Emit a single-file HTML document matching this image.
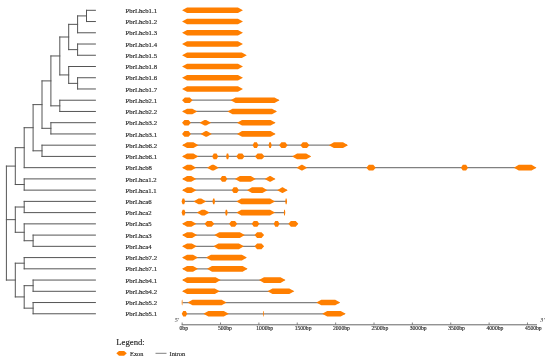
<!DOCTYPE html>
<html><head><meta charset="utf-8"><title>Gene structure</title>
<style>html,body{margin:0;padding:0;background:#fff}body{width:550px;height:361px;overflow:hidden}svg{display:block}</style></head>
<body>
<svg width="550" height="361" viewBox="0 0 550 361">
<rect width="550" height="361" fill="#fff"/>
<path d="M86.50,10.30H95.40M86.50,21.54H95.40M86.50,10.30V21.54M77.60,15.92H86.50M77.60,32.78H95.40M77.60,15.92V32.78M68.70,24.35H77.60M77.60,44.02H95.40M77.60,55.26H95.40M77.60,44.02V55.26M68.70,49.64H77.60M68.70,24.35V49.64M59.80,37.00H68.70M68.70,66.50H95.40M77.60,77.74H95.40M77.60,88.98H95.40M77.60,77.74V88.98M68.70,83.36H77.60M68.70,66.50V83.36M59.80,74.93H68.70M59.80,37.00V74.93M50.90,55.96H59.80M59.80,100.22H95.40M59.80,111.46H95.40M59.80,100.22V111.46M50.90,105.84H59.80M50.90,55.96V105.84M42.00,80.90H50.90M50.90,122.70H95.40M50.90,133.94H95.40M50.90,122.70V133.94M42.00,128.32H50.90M42.00,80.90V128.32M33.10,104.61H42.00M42.00,145.18H95.40M42.00,156.42H95.40M42.00,145.18V156.42M33.10,150.80H42.00M33.10,104.61V150.80M24.20,127.71H33.10M24.20,167.66H95.40M24.20,127.71V167.66M15.30,147.68H24.20M24.20,178.90H95.40M24.20,190.14H95.40M24.20,178.90V190.14M15.30,184.52H24.20M15.30,147.68V184.52M6.40,166.10H15.30M24.20,201.38H95.40M24.20,212.62H95.40M24.20,201.38V212.62M15.30,207.00H24.20M24.20,223.86H95.40M33.10,235.10H95.40M33.10,246.34H95.40M33.10,235.10V246.34M24.20,240.72H33.10M24.20,223.86V240.72M15.30,232.29H24.20M15.30,207.00V232.29M6.40,219.65H15.30M24.20,257.58H95.40M24.20,268.82H95.40M24.20,257.58V268.82M15.30,263.20H24.20M33.10,280.06H95.40M33.10,291.30H95.40M33.10,280.06V291.30M24.20,285.68H33.10M33.10,302.54H95.40M33.10,313.78H95.40M33.10,302.54V313.78M24.20,308.16H33.10M24.20,285.68V308.16M15.30,296.92H24.20M15.30,263.20V296.92M6.40,280.06H15.30M6.40,166.10V280.06" stroke="#555555" stroke-width="1" fill="none" stroke-linecap="square"/>
<g font-family="'Liberation Serif', 'Times New Roman', serif" font-size="6.7" fill="#2a2a2a" stroke="#2a2a2a" stroke-width="0.17">
<text x="125.6" y="12.90">PbrLhcb1.1</text>
<text x="125.6" y="24.14">PbrLhcb1.2</text>
<text x="125.6" y="35.38">PbrLhcb1.3</text>
<text x="125.6" y="46.62">PbrLhcb1.4</text>
<text x="125.6" y="57.86">PbrLhcb1.5</text>
<text x="125.6" y="69.10">PbrLhcb1.8</text>
<text x="125.6" y="80.34">PbrLhcb1.6</text>
<text x="125.6" y="91.58">PbrLhcb1.7</text>
<text x="125.6" y="102.82">PbrLhcb2.1</text>
<text x="125.6" y="114.06">PbrLhcb2.2</text>
<text x="125.6" y="125.30">PbrLhcb3.2</text>
<text x="125.6" y="136.54">PbrLhcb3.1</text>
<text x="125.6" y="147.78">PbrLhcb6.2</text>
<text x="125.6" y="159.02">PbrLhcb6.1</text>
<text x="125.6" y="170.26">PbrLhcb8</text>
<text x="125.6" y="181.50">PbrLhca1.2</text>
<text x="125.6" y="192.74">PbrLhca1.1</text>
<text x="125.6" y="203.98">PbrLhca6</text>
<text x="125.6" y="215.22">PbrLhca2</text>
<text x="125.6" y="226.46">PbrLhca5</text>
<text x="125.6" y="237.70">PbrLhca3</text>
<text x="125.6" y="248.94">PbrLhca4</text>
<text x="125.6" y="260.18">PbrLhcb7.2</text>
<text x="125.6" y="271.42">PbrLhcb7.1</text>
<text x="125.6" y="282.66">PbrLhcb4.1</text>
<text x="125.6" y="293.90">PbrLhcb4.2</text>
<text x="125.6" y="305.14">PbrLhcb5.2</text>
<text x="125.6" y="316.38">PbrLhcb5.1</text>
</g>
<path d="M183.05,100.22H278.50M183.05,111.46H276.00M183.05,122.70H274.60M183.05,133.94H274.60M183.05,145.18H347.00M183.05,156.42H310.20M183.05,167.66H535.50M183.05,178.90H274.50M183.05,190.14H286.70M182.55,201.38H286.10M182.55,212.62H284.30M183.05,223.86H297.30M183.05,235.10H263.10M183.05,246.34H263.10M183.05,257.58H245.90M183.05,268.82H246.60M183.05,280.06H284.50M183.05,291.30H293.30M182.65,302.54H339.20M182.75,313.78H344.70" stroke="#808080" stroke-width="1.2" fill="none"/>
<path d="M182.05,10.30 L187.05,7.48 L237.95,7.48 L242.95,10.30 L237.95,13.12 L187.05,13.12ZM182.05,21.54 L187.05,18.71 L237.95,18.71 L242.95,21.54 L237.95,24.36 L187.05,24.36ZM182.05,32.78 L187.05,29.96 L237.95,29.96 L242.95,32.78 L237.95,35.61 L187.05,35.61ZM182.05,44.02 L187.05,41.19 L237.95,41.19 L242.95,44.02 L237.95,46.84 L187.05,46.84ZM182.05,55.26 L187.05,52.44 L241.80,52.44 L246.80,55.26 L241.80,58.09 L187.05,58.09ZM182.05,66.50 L187.05,63.67 L237.95,63.67 L242.95,66.50 L237.95,69.33 L187.05,69.33ZM182.05,77.74 L187.05,74.91 L237.95,74.91 L242.95,77.74 L237.95,80.56 L187.05,80.56ZM182.05,88.98 L187.05,86.16 L237.95,86.16 L242.95,88.98 L237.95,91.81 L187.05,91.81ZM182.05,100.22 L184.85,97.39 L189.80,97.39 L192.60,100.22 L189.80,103.05 L184.85,103.05ZM230.60,100.22 L235.60,97.39 L274.50,97.39 L279.50,100.22 L274.50,103.05 L235.60,103.05ZM182.05,111.46 L187.05,108.63 L192.30,108.63 L197.30,111.46 L192.30,114.28 L187.05,114.28ZM227.50,111.46 L232.50,108.63 L272.00,108.63 L277.00,111.46 L272.00,114.28 L232.50,114.28ZM182.05,122.70 L184.44,119.88 L188.51,119.88 L190.90,122.70 L188.51,125.53 L184.44,125.53ZM199.50,122.70 L204.50,119.88 L206.10,119.88 L211.10,122.70 L206.10,125.53 L204.50,125.53ZM237.00,122.70 L242.00,119.88 L270.60,119.88 L275.60,122.70 L270.60,125.53 L242.00,125.53ZM182.05,133.94 L184.44,131.12 L188.51,131.12 L190.90,133.94 L188.51,136.76 L184.44,136.76ZM200.60,133.94 L205.60,131.12 L206.80,131.12 L211.80,133.94 L206.80,136.76 L205.60,136.76ZM237.00,133.94 L242.00,131.12 L270.60,131.12 L275.60,133.94 L270.60,136.76 L242.00,136.76ZM182.05,145.18 L187.05,142.36 L193.40,142.36 L198.40,145.18 L193.40,148.00 L187.05,148.00ZM252.60,145.18 L254.17,142.36 L256.83,142.36 L258.40,145.18 L256.83,148.00 L254.17,148.00ZM268.50,145.18 L269.36,142.36 L270.84,142.36 L271.70,145.18 L270.84,148.00 L269.36,148.00ZM279.10,145.18 L281.40,142.36 L285.31,142.36 L287.60,145.18 L285.31,148.00 L281.40,148.00ZM300.30,145.18 L302.76,142.36 L306.94,142.36 L309.40,145.18 L306.94,148.00 L302.76,148.00ZM328.90,145.18 L333.90,142.36 L343.00,142.36 L348.00,145.18 L343.00,148.00 L333.90,148.00ZM182.05,156.42 L187.05,153.60 L193.40,153.60 L198.40,156.42 L193.40,159.25 L187.05,159.25ZM212.10,156.42 L213.75,153.60 L216.55,153.60 L218.20,156.42 L216.55,159.25 L213.75,159.25ZM226.00,156.42 L226.81,153.60 L228.19,153.60 L229.00,156.42 L228.19,159.25 L226.81,159.25ZM236.20,156.42 L238.47,153.60 L242.33,153.60 L244.60,156.42 L242.33,159.25 L238.47,159.25ZM254.90,156.42 L257.52,153.60 L261.98,153.60 L264.60,156.42 L261.98,159.25 L257.52,159.25ZM292.10,156.42 L297.10,153.60 L306.20,153.60 L311.20,156.42 L306.20,159.25 L297.10,159.25ZM182.05,167.66 L187.05,164.84 L191.20,164.84 L196.20,167.66 L191.20,170.49 L187.05,170.49ZM207.00,167.66 L212.00,164.84 L213.80,164.84 L218.80,167.66 L213.80,170.49 L212.00,170.49ZM296.50,167.66 L301.50,164.84 L302.30,164.84 L307.30,167.66 L302.30,170.49 L301.50,170.49ZM366.30,167.66 L368.87,164.84 L373.24,164.84 L375.80,167.66 L373.24,170.49 L368.87,170.49ZM460.90,167.66 L462.82,164.84 L466.08,164.84 L468.00,167.66 L466.08,170.49 L462.82,170.49ZM513.80,167.66 L518.80,164.84 L531.50,164.84 L536.50,167.66 L531.50,170.49 L518.80,170.49ZM182.05,178.90 L187.05,176.08 L191.20,176.08 L196.20,178.90 L191.20,181.72 L187.05,181.72ZM220.10,178.90 L222.04,176.08 L225.36,176.08 L227.30,178.90 L225.36,181.72 L222.04,181.72ZM234.90,178.90 L239.90,176.08 L250.80,176.08 L255.80,178.90 L250.80,181.72 L239.90,181.72ZM264.70,178.90 L269.70,176.08 L270.50,176.08 L275.50,178.90 L270.50,181.72 L269.70,181.72ZM182.05,190.14 L187.05,187.32 L191.40,187.32 L196.40,190.14 L191.40,192.97 L187.05,192.97ZM231.70,190.14 L233.64,187.32 L236.96,187.32 L238.90,190.14 L236.96,192.97 L233.64,192.97ZM247.00,190.14 L252.00,187.32 L262.40,187.32 L267.40,190.14 L262.40,192.97 L252.00,192.97ZM277.20,190.14 L282.20,187.32 L282.70,187.32 L287.70,190.14 L282.70,192.97 L282.20,192.97ZM181.55,201.38 L182.54,198.56 L184.21,198.56 L185.20,201.38 L184.21,204.21 L182.54,204.21ZM193.50,201.38 L198.50,198.56 L201.20,198.56 L206.20,201.38 L201.20,204.21 L198.50,204.21ZM212.40,201.38 L213.13,198.56 L214.37,198.56 L215.10,201.38 L214.37,204.21 L213.13,204.21ZM236.40,201.38 L241.40,198.56 L270.00,198.56 L275.00,201.38 L270.00,204.21 L241.40,204.21ZM285.20,201.38 L285.71,198.56 L286.59,198.56 L287.10,201.38 L286.59,204.21 L285.71,204.21ZM181.55,212.62 L182.62,209.80 L184.43,209.80 L185.50,212.62 L184.43,215.44 L182.62,215.44ZM196.80,212.62 L201.80,209.80 L204.60,209.80 L209.60,212.62 L204.60,215.44 L201.80,215.44ZM225.10,212.62 L225.80,209.80 L227.00,209.80 L227.70,212.62 L227.00,215.44 L225.80,215.44ZM236.40,212.62 L241.40,209.80 L270.00,209.80 L275.00,212.62 L270.00,215.44 L241.40,215.44ZM283.80,212.62 L284.20,209.80 L284.90,209.80 L285.30,212.62 L284.90,215.44 L284.20,215.44ZM182.05,223.86 L187.05,221.04 L191.40,221.04 L196.40,223.86 L191.40,226.69 L187.05,226.69ZM204.50,223.86 L207.15,221.04 L211.65,221.04 L214.30,223.86 L211.65,226.69 L207.15,226.69ZM229.10,223.86 L231.29,221.04 L235.01,221.04 L237.20,223.86 L235.01,226.69 L231.29,226.69ZM251.70,223.86 L253.78,221.04 L257.32,221.04 L259.40,223.86 L257.32,226.69 L253.78,226.69ZM273.70,223.86 L275.27,221.04 L277.93,221.04 L279.50,223.86 L277.93,226.69 L275.27,226.69ZM288.30,223.86 L290.90,221.04 L295.70,221.04 L298.30,223.86 L295.70,226.69 L290.90,226.69ZM182.05,235.10 L187.05,232.28 L192.10,232.28 L197.10,235.10 L192.10,237.93 L187.05,237.93ZM214.30,235.10 L219.30,232.28 L239.80,232.28 L244.80,235.10 L239.80,237.93 L219.30,237.93ZM254.50,235.10 L257.09,232.28 L261.51,232.28 L264.10,235.10 L261.51,237.93 L257.09,237.93ZM182.05,246.34 L187.05,243.52 L191.80,243.52 L196.80,246.34 L191.80,249.16 L187.05,249.16ZM213.40,246.34 L218.40,243.52 L238.90,243.52 L243.90,246.34 L238.90,249.16 L218.40,249.16ZM254.50,246.34 L257.09,243.52 L261.51,243.52 L264.10,246.34 L261.51,249.16 L257.09,249.16ZM182.05,257.58 L187.05,254.75 L193.00,254.75 L198.00,257.58 L193.00,260.40 L187.05,260.40ZM206.00,257.58 L211.00,254.75 L241.90,254.75 L246.90,257.58 L241.90,260.40 L211.00,260.40ZM182.05,268.82 L187.05,266.00 L193.00,266.00 L198.00,268.82 L193.00,271.64 L187.05,271.64ZM207.00,268.82 L212.00,266.00 L242.60,266.00 L247.60,268.82 L242.60,271.64 L212.00,271.64ZM182.05,280.06 L187.05,277.24 L215.60,277.24 L220.60,280.06 L215.60,282.88 L187.05,282.88ZM259.00,280.06 L264.00,277.24 L280.50,277.24 L285.50,280.06 L280.50,282.88 L264.00,282.88ZM182.05,291.30 L187.05,288.48 L214.80,288.48 L219.80,291.30 L214.80,294.12 L187.05,294.12ZM267.50,291.30 L272.50,288.48 L289.30,288.48 L294.30,291.30 L289.30,294.12 L272.50,294.12ZM181.65,302.54 L181.92,299.72 L182.38,299.72 L182.65,302.54 L182.38,305.37 L181.92,305.37ZM187.50,302.54 L192.50,299.72 L221.60,299.72 L226.60,302.54 L221.60,305.37 L192.50,305.37ZM316.30,302.54 L321.30,299.72 L335.20,299.72 L340.20,302.54 L335.20,305.37 L321.30,305.37ZM181.75,313.78 L183.22,310.96 L185.73,310.96 L187.20,313.78 L185.73,316.61 L183.22,316.61ZM203.40,313.78 L208.40,310.96 L223.80,310.96 L228.80,313.78 L223.80,316.61 L208.40,316.61ZM262.90,313.78 L263.17,310.96 L263.63,310.96 L263.90,313.78 L263.63,316.61 L263.17,316.61ZM322.20,313.78 L327.20,310.96 L340.70,310.96 L345.70,313.78 L340.70,316.61 L327.20,316.61Z" fill="#FF7F00"/>
<path d="M181.65,324.8H537" stroke="#666" stroke-width="1" fill="none"/>
<g font-family="'Liberation Serif', serif" font-size="5.6" fill="#2a2a2a" stroke="#2a2a2a" stroke-width="0.15">
<text x="179.55" y="330.30">0bp</text>
<text x="217.92" y="330.30">500bp</text>
<text x="256.29" y="330.30">1000bp</text>
<text x="294.66" y="330.30">1500bp</text>
<text x="333.03" y="330.30">2000bp</text>
<text x="371.40" y="330.30">2500bp</text>
<text x="409.77" y="330.30">3000bp</text>
<text x="448.14" y="330.30">3500bp</text>
<text x="486.51" y="330.30">4000bp</text>
<text x="524.88" y="330.30">4500bp</text>
</g>
<path d="M182.15,322.5V324.8M220.52,322.5V324.8M258.89,322.5V324.8M297.26,322.5V324.8M335.63,322.5V324.8M374.00,322.5V324.8M412.37,322.5V324.8M450.74,322.5V324.8M489.11,322.5V324.8M527.48,322.5V324.8" stroke="#666" stroke-width="0.8" fill="none"/>
<g font-family="'Liberation Serif', serif" font-size="6" font-style="italic" fill="#222">
<text x="174.8" y="322.4">5'</text><text x="540.3" y="322.4">3'</text></g>
<g font-family="'Liberation Serif', serif" fill="#2a2a2a" stroke="#2a2a2a" stroke-width="0.15">
<text x="116.3" y="344.6" font-size="8.7">Legend:</text>
<text x="130.1" y="355.5" font-size="6.3">Exon</text>
<text x="169.5" y="355.5" font-size="6.4">Intron</text></g>
<path d="M116.30,353.30 L119.00,350.90 L124.10,350.90 L126.80,353.30 L124.10,355.70 L119.00,355.70Z" fill="#FF7F00"/>
<path d="M155.5,353.3H166.5" stroke="#808080" stroke-width="1"/>
</svg>
</body></html>
